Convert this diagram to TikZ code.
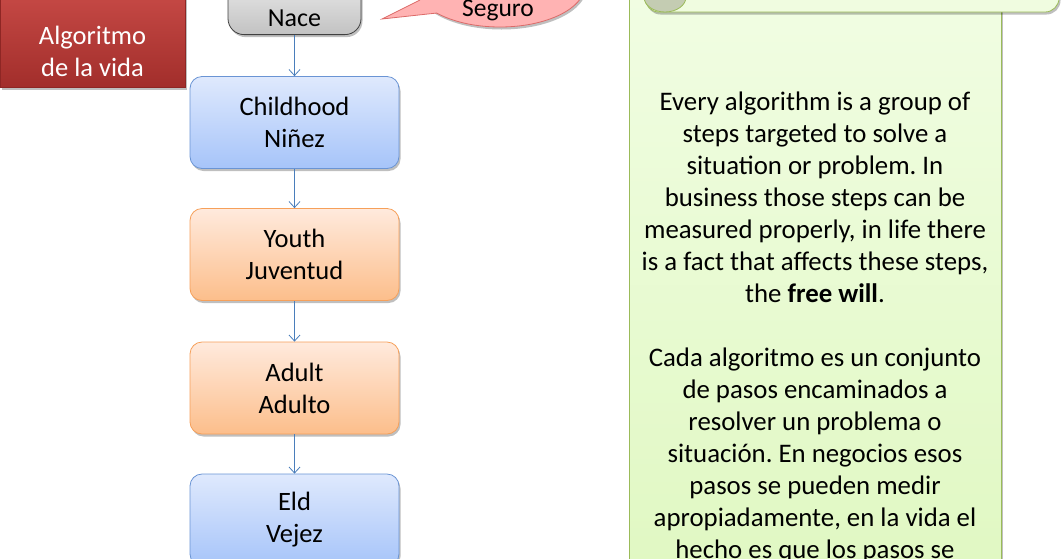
\documentclass[tikz,border=0pt]{standalone}
\usepackage{fontspec}
\setmainfont{Carlito}
\frenchspacing
\usetikzlibrary{arrows.meta,shadows}
\definecolor{bluetop}{HTML}{DFE9FD}
\definecolor{bluebot}{HTML}{A6C4F9}
\definecolor{blueborder}{HTML}{6A94D4}
\definecolor{orangetop}{HTML}{FFEADD}
\definecolor{orangebot}{HTML}{FCBE8B}
\definecolor{orangeborder}{HTML}{F6A05A}
\definecolor{nacetop}{HTML}{F2F2F2}
\definecolor{nacebot}{HTML}{C2C2C2}
\definecolor{redtop}{HTML}{CB4D49}
\definecolor{redbot}{HTML}{A22E2B}
\definecolor{redborder}{HTML}{8E2624}
\definecolor{greentop}{HTML}{F1FDE3}
\definecolor{greenbot}{HTML}{E0F8C2}
\definecolor{greenborder}{HTML}{9BBB59}
\definecolor{scrollfill}{HTML}{F0FCE0}
\definecolor{curlgray}{HTML}{C4CCB2}
\definecolor{pinkfill}{HTML}{FFB3B3}
\definecolor{pinkborder}{HTML}{DC6A68}
\definecolor{arrowblue}{HTML}{4A7EBB}
\tikzset{
  softshadow/.style={drop shadow={shadow xshift=1.5pt, shadow yshift=-2.5pt, opacity=0.25, fill=black}},
  flowbox/.style={rounded corners=12pt, minimum width=209pt, minimum height=92pt,
    align=center, font=\fontsize{26.5}{32}\selectfont, line width=0.8pt, softshadow},
  bluebox/.style={flowbox, draw=blueborder, top color=bluetop, bottom color=bluebot},
  orangebox/.style={flowbox, draw=orangeborder, top color=orangetop, bottom color=orangebot},
  nacebox/.style={rounded corners=16pt, minimum width=133pt, draw=black!75, line width=0.8pt,
    top color=nacetop, bottom color=nacebot, font=\fontsize{26}{32}\selectfont, softshadow},
  flowarrow/.style={draw=arrowblue, line width=0.8pt, -{Straight Barb[length=6pt,width=11pt]}},
  bigtext/.style={font=\fontsize{26.5}{32}\selectfont},
  desctext/.style={font=\fontsize{26.8}{32}\selectfont, align=center}
}
\begin{document}
\begin{tikzpicture}[x=1pt,y=-1pt]
\useasboundingbox (0,0) rectangle (1063,558);
% title box
\draw[redborder, line width=0.6pt, top color=redtop, bottom color=redbot, softshadow] (0,-20) rectangle (185,87);
\node[bigtext, text=white, align=center] (title) at (92.5,51) {Algoritmo\\de la vida};
% start node
\node[nacebox, text height=60pt, text depth=8pt, inner ysep=0pt, anchor=south] (nace) at (294.5,35) {Nace};
% callout
\draw[pinkborder, fill=pinkfill, line width=0.8pt, softshadow] (500,-15) ellipse [x radius=85, y radius=42];
\fill[pinkfill] (382,19) -- (420,0) -- (430,-5) -- (445,5) -- (437,13) -- cycle;
\draw[pinkborder, line width=0.8pt, line join=miter] (420,0) -- (382,19) -- (437,13);
\node[font=\fontsize{25.5}{32}\selectfont, anchor=base] (seguro) at (498,16.5) {Seguro};
% flow boxes
\node[bluebox] (child) at (294.5,122.5) {Childhood\\Niñez};
\node[orangebox] (youth) at (294.5,254.5) {Youth\\Juventud};
\node[orangebox] (adult) at (294.5,388) {Adult\\Adulto};
\node[bluebox] (eld) at (294.5,520) {Eld\\Vejez};
\draw[flowarrow] (nace) -- (child);
\draw[flowarrow] (child) -- (youth);
\draw[flowarrow] (youth) -- (adult);
\draw[flowarrow] (adult) -- (eld);
% green scroll panel
\draw[greenborder, line width=0.8pt, top color=greentop, bottom color=greenbot, softshadow] (629,-10) rectangle (1001,580);
\draw[greenborder, line width=0.8pt, fill=scrollfill, rounded corners=14pt, softshadow] (645,-40) rectangle (1059,12);
\draw[greenborder, line width=0.8pt, fill=curlgray] (665,-3) ellipse [x radius=21, y radius=15];
\node[desctext, anchor=north] (desc) at (815,88) {Every algorithm is a group of\\steps targeted to solve a\\situation or problem. In\\business those steps can be\\measured properly, in life there\\is a fact that affects these steps,\\the \textbf{free will}.\\[32pt]Cada algoritmo es un conjunto\\de pasos encaminados a\\resolver un problema o\\situación. En negocios esos\\pasos se pueden medir\\apropiadamente, en la vida el\\hecho es que los pasos se};
\end{tikzpicture}
\end{document}
